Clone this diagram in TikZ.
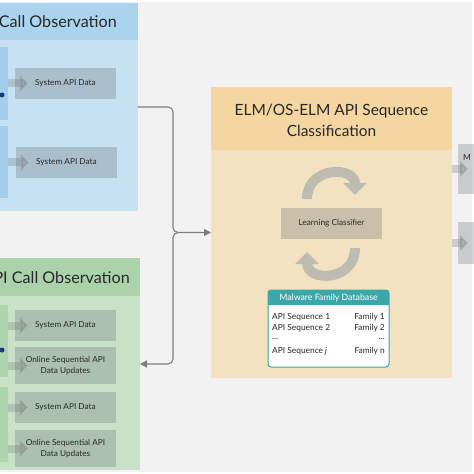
\documentclass[tikz,border=0pt]{standalone}
\usepackage{fontspec}
\setmainfont{Lato}
\usetikzlibrary{arrows.meta}
\definecolor{bg}{RGB}{242,242,242}
\definecolor{blueHead}{RGB}{170,211,238}
\definecolor{blueBody}{RGB}{197,225,242}
\definecolor{blueCol}{RGB}{163,206,238}
\definecolor{greenHead}{RGB}{172,210,172}
\definecolor{greenBody}{RGB}{200,226,200}
\definecolor{greenCol}{RGB}{174,212,176}
\definecolor{orangeHead}{RGB}{243,214,160}
\definecolor{orangeBody}{RGB}{243,226,193}
\definecolor{boxgray}{RGB}{110,115,118}
\definecolor{arcgray}{RGB}{190,188,176}
\definecolor{linkgray}{RGB}{125,125,125}
\definecolor{dbteal}{RGB}{58,168,168}
\definecolor{textdark}{RGB}{40,40,40}
\definecolor{dotblue}{RGB}{30,55,120}
\begin{document}
\begin{tikzpicture}[x=1bp,y=-1bp,line width=.4pt,
  panel/.style={inner sep=0pt,outer sep=0pt},
  paneltitle/.style={inner sep=0pt,text=textdark,font=\fontsize{16.2}{19}\selectfont},
  databox/.style={fill=boxgray,fill opacity=.3,text opacity=1,text=textdark,inner sep=0pt,align=center,
    font=\fontsize{8.3}{11.5}\selectfont,minimum width=101bp},
  fatarrow/.style={draw=boxgray,opacity=.28,line width=8bp,-{Triangle[width=16bp,length=8bp]}},
  cyclearrow/.style={draw=arcgray,line width=10bp,-{Triangle[width=23bp,length=12bp]}},
  link/.style={draw=linkgray,line width=1.1bp,rounded corners=5bp},
  dbtext/.style={inner sep=0pt,text=textdark,font=\fontsize{8.4}{10}\selectfont},
  dot/.style={circle,fill=dotblue,inner sep=0pt,minimum size=5bp}]
\useasboundingbox (0,0) rectangle (474,474);
\clip (0,0) rectangle (474,474);
\fill[white] (0,0) rectangle (474,474);
\fill[bg] (0,2) rectangle (472,472);
% first observation panel
\node[panel,fill=blueBody,minimum width=200bp,minimum height=208bp] (obs1) at (38,107) {};
\node[panel,fill=blueHead,minimum width=200bp,minimum height=37bp,anchor=north] (obs1head) at (obs1.north) {};
\node[paneltitle,anchor=east] (obs1title) at (117,22) {API Call Observation};
\node[panel,fill=blueCol,minimum width=48bp,minimum height=73bp] (col1) at (-16,83.5) {};
\node[panel,fill=blueCol,minimum width=48bp,minimum height=72bp] (col2) at (-16,162) {};
\node[dot] (d1) at (2,95) {};
\node[databox,minimum height=31bp] (b1) at (65.5,83.5) {System API Data};
\node[databox,minimum height=31bp] (b2) at (66.5,162.5) {System API Data};
\draw[fatarrow] (col1.east |- b1.west) -- ([xshift=13bp]b1.west);
\draw[fatarrow] (col2.east |- b2.west) -- ([xshift=13bp]b2.west);
% second observation panel
\node[panel,fill=greenBody,minimum width=200bp,minimum height=212bp] (obs2) at (40,364) {};
\node[panel,fill=greenHead,minimum width=200bp,minimum height=38bp,anchor=north] (obs2head) at (obs2.north) {};
\node[paneltitle,anchor=east] (obs2title) at (130,278) {API Call Observation};
\node[panel,fill=greenCol,minimum width=48bp,minimum height=72bp] (col3) at (-16,341) {};
\node[panel,fill=greenCol,minimum width=48bp,minimum height=75bp] (col4) at (-16,424.5) {};
\node[dot] (d2) at (2,350) {};
\node[databox,minimum height=31bp] (g1) at (65.5,325.5) {System API Data};
\node[databox,minimum height=37bp] (g2) at (65.5,365.5) {Online Sequential API\\Data Updates};
\node[databox,minimum height=31bp] (g3) at (65.5,407.5) {System API Data};
\node[databox,minimum height=37bp] (g4) at (65.5,448.5) {Online Sequential API\\Data Updates};
\foreach \b/\c in {g1/col3,g2/col3,g3/col4,g4/col4}
  \draw[fatarrow] (\c.east |- \b.west) -- ([xshift=13bp]\b.west);
% classification panel
\node[panel,fill=orangeBody,minimum width=241bp,minimum height=291bp] (cls) at (331.5,232.5) {};
\node[panel,fill=orangeHead,minimum width=241bp,minimum height=63bp,anchor=north] (clshead) at (cls.north) {};
\node[paneltitle,align=center,font=\fontsize{15.5}{21}\selectfont] (clstitle) at (331.5,120) {ELM/OS-ELM API Sequence\\Classification};
\node[databox,minimum height=31bp] (learn) at (331.5,223.5) {Learning Classifier};
\draw[cyclearrow] (307,199) .. controls (307,166) and (355,166) .. (355,195);
\draw[cyclearrow] (355,248) .. controls (355,282) and (307,282) .. (307,252);
% database
\node[panel,draw=dbteal,line width=1bp,fill=white,rounded corners=3bp,minimum width=121bp,minimum height=77bp] (db) at (328.5,328.5) {};
\fill[dbteal] (db.west |- 0,305) {[rounded corners=3bp] -- (db.north west) -- (db.north east)} -- (db.east |- 0,305) -- cycle;
\node[dbtext,text=white,font=\fontsize{8.8}{10}\selectfont] (dbtitle) at (328.5,298) {Malware Family Database};
\node[dbtext,anchor=west] (s1) at (272,317) {API Sequence 1};
\node[dbtext,anchor=west] (s2) at (272,328) {API Sequence 2};
\node[dbtext,anchor=west] (s3) at (272,339) {...};
\node[dbtext,anchor=west] (s4) at (272,351) {API Sequence \textit{j}};
\node[dbtext,anchor=east] (f1) at (385,317) {Family 1};
\node[dbtext,anchor=east] (f2) at (385,328) {Family 2};
\node[dbtext,anchor=east] (f3) at (385,339) {...};
\node[dbtext,anchor=east] (f4) at (385,351) {Family n};
% outputs
\node[databox,minimum width=30bp,minimum height=50bp,anchor=west] (out1) at (458,169) {};
\node[databox,minimum width=30bp,minimum height=42bp,anchor=west] (out2) at (458,243) {};
\node[dbtext,anchor=west] (out1text) at (463,158) {M};
\draw[fatarrow] (cls.east |- out1.west) -- ([xshift=10bp]out1.west);
\draw[fatarrow] (cls.east |- out2.west) -- ([xshift=10bp]out2.west);
% connectors
\coordinate (spine) at (173,232.5);
\draw[link,-{Triangle[length=7bp,width=7bp]}] (obs1.east) -| (spine) -- (cls.west);
\draw[link,-{Triangle[length=7bp,width=7bp]}] ([xshift=5bp]spine) -- (spine) |- (obs2.east);
\end{tikzpicture}
\end{document}
